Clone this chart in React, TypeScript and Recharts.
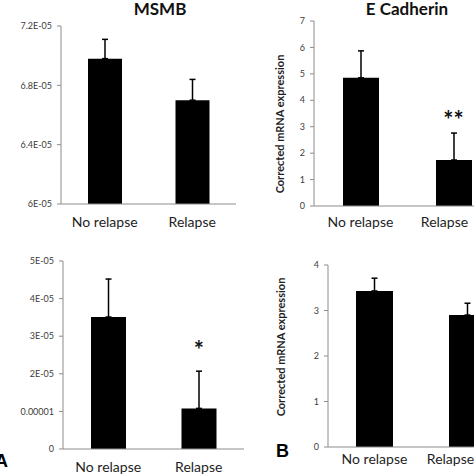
import React from "react";
import { BarChart, Bar, XAxis, YAxis, ErrorBar, ReferenceDot } from "recharts";

const groups = ["No relapse", "Relapse"];

// MSMB, top-left
const msmbMean = [6.98e-5, 6.7e-5];
const msmbErr = [0.13e-5, 0.14e-5];
const msmbTicks = [6e-5, 6.4e-5, 6.8e-5, 7.2e-5];
const msmbTickLabels = ["6E-05", "6.4E-05", "6.8E-05", "7.2E-05"];

// E Cadherin, top-right
const ecadMean = [4.85, 1.74];
const ecadErr = [1.02, 1.02];
const ecadSig = ["", "**"];
const ecadTicks = [0, 1, 2, 3, 4, 5, 6, 7];
const ecadTickLabels = ["0", "1", "2", "3", "4", "5", "6", "7"];

// bottom-left
const lowMean = [3.51e-5, 1.08e-5];
const lowErr = [1.01e-5, 0.99e-5];
const lowSig = ["", "*"];
const lowTicks = [0, 1e-5, 2e-5, 3e-5, 4e-5, 5e-5];
const lowTickLabels = ["0", "0.00001", "2E-05", "3E-05", "4E-05", "5E-05"];

// bottom-right
const rightMean = [3.43, 2.9];
const rightErr = [0.28, 0.26];
const rightTicks = [0, 1, 2, 3, 4];
const rightTickLabels = ["0", "1", "2", "3", "4"];

const font = "Lato, 'Open Sans', sans-serif";

type PanelProps = {
  mean: number[];
  err: number[];
  ticks: number[];
  tickLabels: string[];
  sig?: string[];
  plotLeft: number;
  plotTop: number;
  plotRight: number;
  plotBottom: number;
  barSize: number;
  labelGap: number;
  lastShift?: number;
  sigOffset?: number;
};

const Panel = (p: PanelProps) => {
  const yw = 60;
  const pad = 10;
  const xh = 30;
  const data = groups.map((g, i) => ({
    name: g,
    value: p.mean[i],
    err: [0, p.err[i]],
    top: p.mean[i] + p.err[i],
    sig: p.sig ? p.sig[i] : "",
  }));
  const w = p.plotRight - p.plotLeft + yw + pad;
  const h = p.plotBottom - p.plotTop + pad + xh;

  // category label; the last one is nudged left to stay inside the frame
  const renderTick = (t: any) => {
    const shift = t.index === groups.length - 1 ? p.lastShift ?? 0 : 0;
    return (
      <text
        x={t.x + shift}
        y={t.y}
        dy="0.71em"
        textAnchor="middle"
        fill="#1e1e1e"
        fontSize={14}
        fontFamily={font}
      >
        {t.payload.value}
      </text>
    );
  };

  const renderSig = (text: string) => (props: any) => {
    const vb = props.viewBox || {};
    return (
      <text
        x={vb.x + (vb.width || 0) / 2}
        y={vb.y - (p.sigOffset ?? 0)}
        textAnchor="middle"
        fill="#111"
        fontSize={24}
        fontWeight="bold"
        fontFamily={font}
      >
        {text}
      </text>
    );
  };

  return (
    <div style={{ position: "absolute", left: p.plotLeft - yw, top: p.plotTop - pad }}>
      <BarChart width={w} height={h} data={data} margin={{ top: pad, right: pad, left: 0, bottom: 0 }}>
        <XAxis
          dataKey="name"
          height={xh}
          interval={0}
          tickLine={false}
          tickSize={0}
          tickMargin={p.labelGap}
          axisLine={{ stroke: "#8c8c8c" }}
          tick={renderTick}
        />
        <YAxis
          type="number"
          width={yw}
          domain={[p.ticks[0], p.ticks[p.ticks.length - 1]]}
          ticks={p.ticks}
          interval={0}
          allowDataOverflow
          tickSize={4}
          tickMargin={5}
          tickFormatter={(v: number) => p.tickLabels[p.ticks.indexOf(v)] ?? String(v)}
          axisLine={{ stroke: "#8c8c8c" }}
          tickLine={{ stroke: "#8c8c8c" }}
          tick={{ fill: "#3c3c3c", fontSize: 9, fontFamily: font }}
        />
        <Bar dataKey="value" fill="#000" barSize={p.barSize} isAnimationActive={false}>
          <ErrorBar dataKey="err" direction="y" width={3} stroke="#000" strokeWidth={1.5} />
        </Bar>
        {data
          .filter((d) => d.sig)
          .map((d) => (
            <ReferenceDot
              key={d.name}
              x={d.name}
              y={d.top}
              r={0}
              fill="none"
              stroke="none"
              label={renderSig(d.sig)}
            />
          ))}
      </BarChart>
    </div>
  );
};

export default function App() {
  return (
    <div
      style={{
        position: "fixed",
        left: 0,
        top: 0,
        width: 474,
        height: 474,
        overflow: "hidden",
        background: "#fff",
      }}
    >
      <Panel
        mean={msmbMean}
        err={msmbErr}
        ticks={msmbTicks}
        tickLabels={msmbTickLabels}
        plotLeft={61}
        plotTop={26}
        plotRight={236}
        plotBottom={204}
        barSize={34}
        labelGap={13}
      />
      <Panel
        mean={ecadMean}
        err={ecadErr}
        ticks={ecadTicks}
        tickLabels={ecadTickLabels}
        sig={ecadSig}
        plotLeft={314}
        plotTop={21}
        plotRight={500}
        plotBottom={206}
        barSize={36}
        labelGap={11}
        lastShift={-9}
        sigOffset={4}
      />
      <Panel
        mean={lowMean}
        err={lowErr}
        ticks={lowTicks}
        tickLabels={lowTickLabels}
        sig={lowSig}
        plotLeft={63}
        plotTop={261}
        plotRight={244}
        plotBottom={449}
        barSize={35}
        labelGap={13}
        sigOffset={12}
      />
      <Panel
        mean={rightMean}
        err={rightErr}
        ticks={rightTicks}
        tickLabels={rightTickLabels}
        plotLeft={328}
        plotTop={265}
        plotRight={514}
        plotBottom={447}
        barSize={37}
        labelGap={7}
        lastShift={-17}
      />
      <svg
        width={474}
        height={474}
        style={{ position: "absolute", left: 0, top: 0, pointerEvents: "none" }}
      >
        <text x={160} y={15} textAnchor="middle" fontFamily={font} fontWeight="bold" fontSize={17} fill="#111">
          MSMB
        </text>
        <text x={407} y={15} textAnchor="middle" fontFamily={font} fontWeight="bold" fontSize={17} fill="#111">
          E Cadherin
        </text>
        <text
          x={279}
          y={124}
          transform="rotate(-90 279 124)"
          textAnchor="middle"
          dominantBaseline="central"
          fontFamily={font}
          fontWeight="bold"
          fontSize={11}
          fill="#1e1e1e"
        >
          Corrected mRNA expression
        </text>
        <text
          x={280}
          y={347}
          transform="rotate(-90 280 347)"
          textAnchor="middle"
          dominantBaseline="central"
          fontFamily={font}
          fontWeight="bold"
          fontSize={11}
          fill="#1e1e1e"
        >
          Corrected mRNA expression
        </text>
        <text x={-5} y={467} fontFamily="'Liberation Sans', Arial, sans-serif" fontWeight="bold" fontSize={18} fill="#000">
          A
        </text>
        <text x={276} y={457} fontFamily="'Liberation Sans', Arial, sans-serif" fontWeight="bold" fontSize={18} fill="#000">
          B
        </text>
      </svg>
    </div>
  );
}
